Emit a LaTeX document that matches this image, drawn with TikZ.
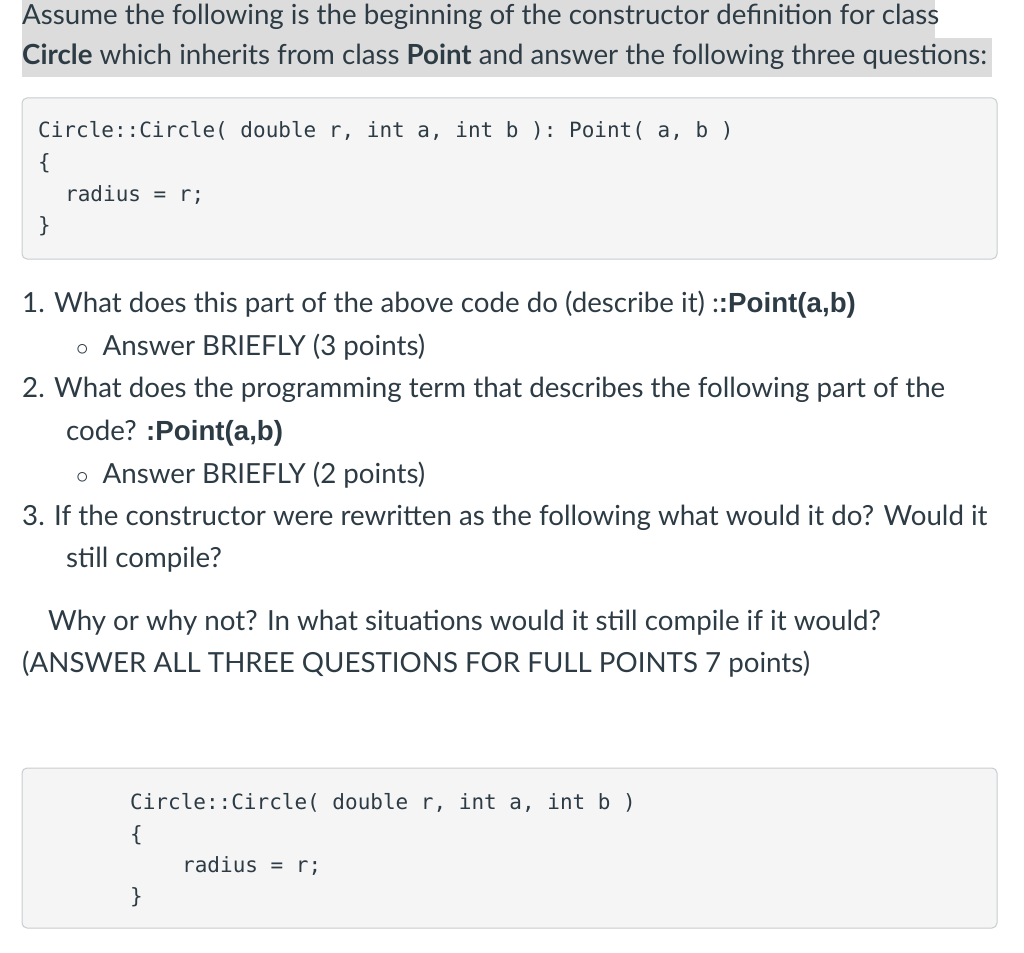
\documentclass[tikz,border=0pt]{standalone}
\usepackage{fontspec}
\setmainfont{Lato}
\setmonofont{DejaVu Sans Mono}
\newfontfamily\arialf{Liberation Sans}
\definecolor{txt}{HTML}{2D3B45}
\definecolor{hl}{HTML}{DCDCDC}
\definecolor{codebg}{HTML}{F5F5F5}
\definecolor{codeln}{HTML}{C7CDD1}
\begin{document}
\begin{tikzpicture}[x=1pt,y=-1pt,
  body/.style={anchor=base west,inner sep=0pt,text=txt,font=\fontsize{27.7}{30}\selectfont},
  code/.style={anchor=base west,inner sep=0pt,text=txt,font=\fontsize{21}{25}\ttfamily},
  codebox/.style={draw=codeln,fill=codebg,rounded corners=5pt,line width=1pt}]
\useasboundingbox[fill=white] (0,0) rectangle (1024,952);
\fill[hl] (22,0) rectangle (935,38);
\fill[hl] (22,38) rectangle (992,77);
\node[body] (l1) at (22,25) {Assume the following is the beginning of the constructor definition for class};
\node[body] (l2) at (22,65) {\textbf{Circle} which inherits from class \textbf{Point} and answer the following three questions:};
\draw[codebox] (22,98) rectangle (997,259);
\node[code] (c1) at (38,138) {Circle::Circle( double r, int a, int b ): Point( a, b )};
\node[code] (c2) at (38,170) {\{};
\node[code] (c3) at (65,201) {radius = r;};
\node[code] (c4) at (38,232) {\}};
\node[body] (q1) at (22,312) {1. What does this part of the above code do (describe it) :{\arialf\bfseries:Point(a,b)}};
\node[body] (b1) at (76,355) {$\circ$\hspace{14pt}Answer BRIEFLY (3 points)};
\node[body] (q2) at (22,397) {2. What does the programming term that describes the following part of the};
\node[body] (q2b) at (66,440) {code? {\arialf\bfseries:Point(a,b)}};
\node[body] (b2) at (76,483) {$\circ$\hspace{14pt}Answer BRIEFLY (2 points)};
\node[body] (q3) at (22,525) {3. If the constructor were rewritten as the following what would it do? Would it};
\node[body] (q3b) at (66,567) {still compile?};
\node[body] (w1) at (48,630) {Why or why not? In what situations would it still compile if it would?};
\node[body] (w2) at (22,672) {(ANSWER ALL THREE QUESTIONS FOR FULL POINTS 7 points)};
\draw[codebox] (22,768) rectangle (997,928);
\node[code] (d1) at (130,809) {Circle::Circle( double r, int a, int b )};
\node[code] (d2) at (130,841) {\{};
\node[code] (d3) at (182,872) {radius = r;};
\node[code] (d4) at (130,903) {\}};
\end{tikzpicture}
\end{document}
